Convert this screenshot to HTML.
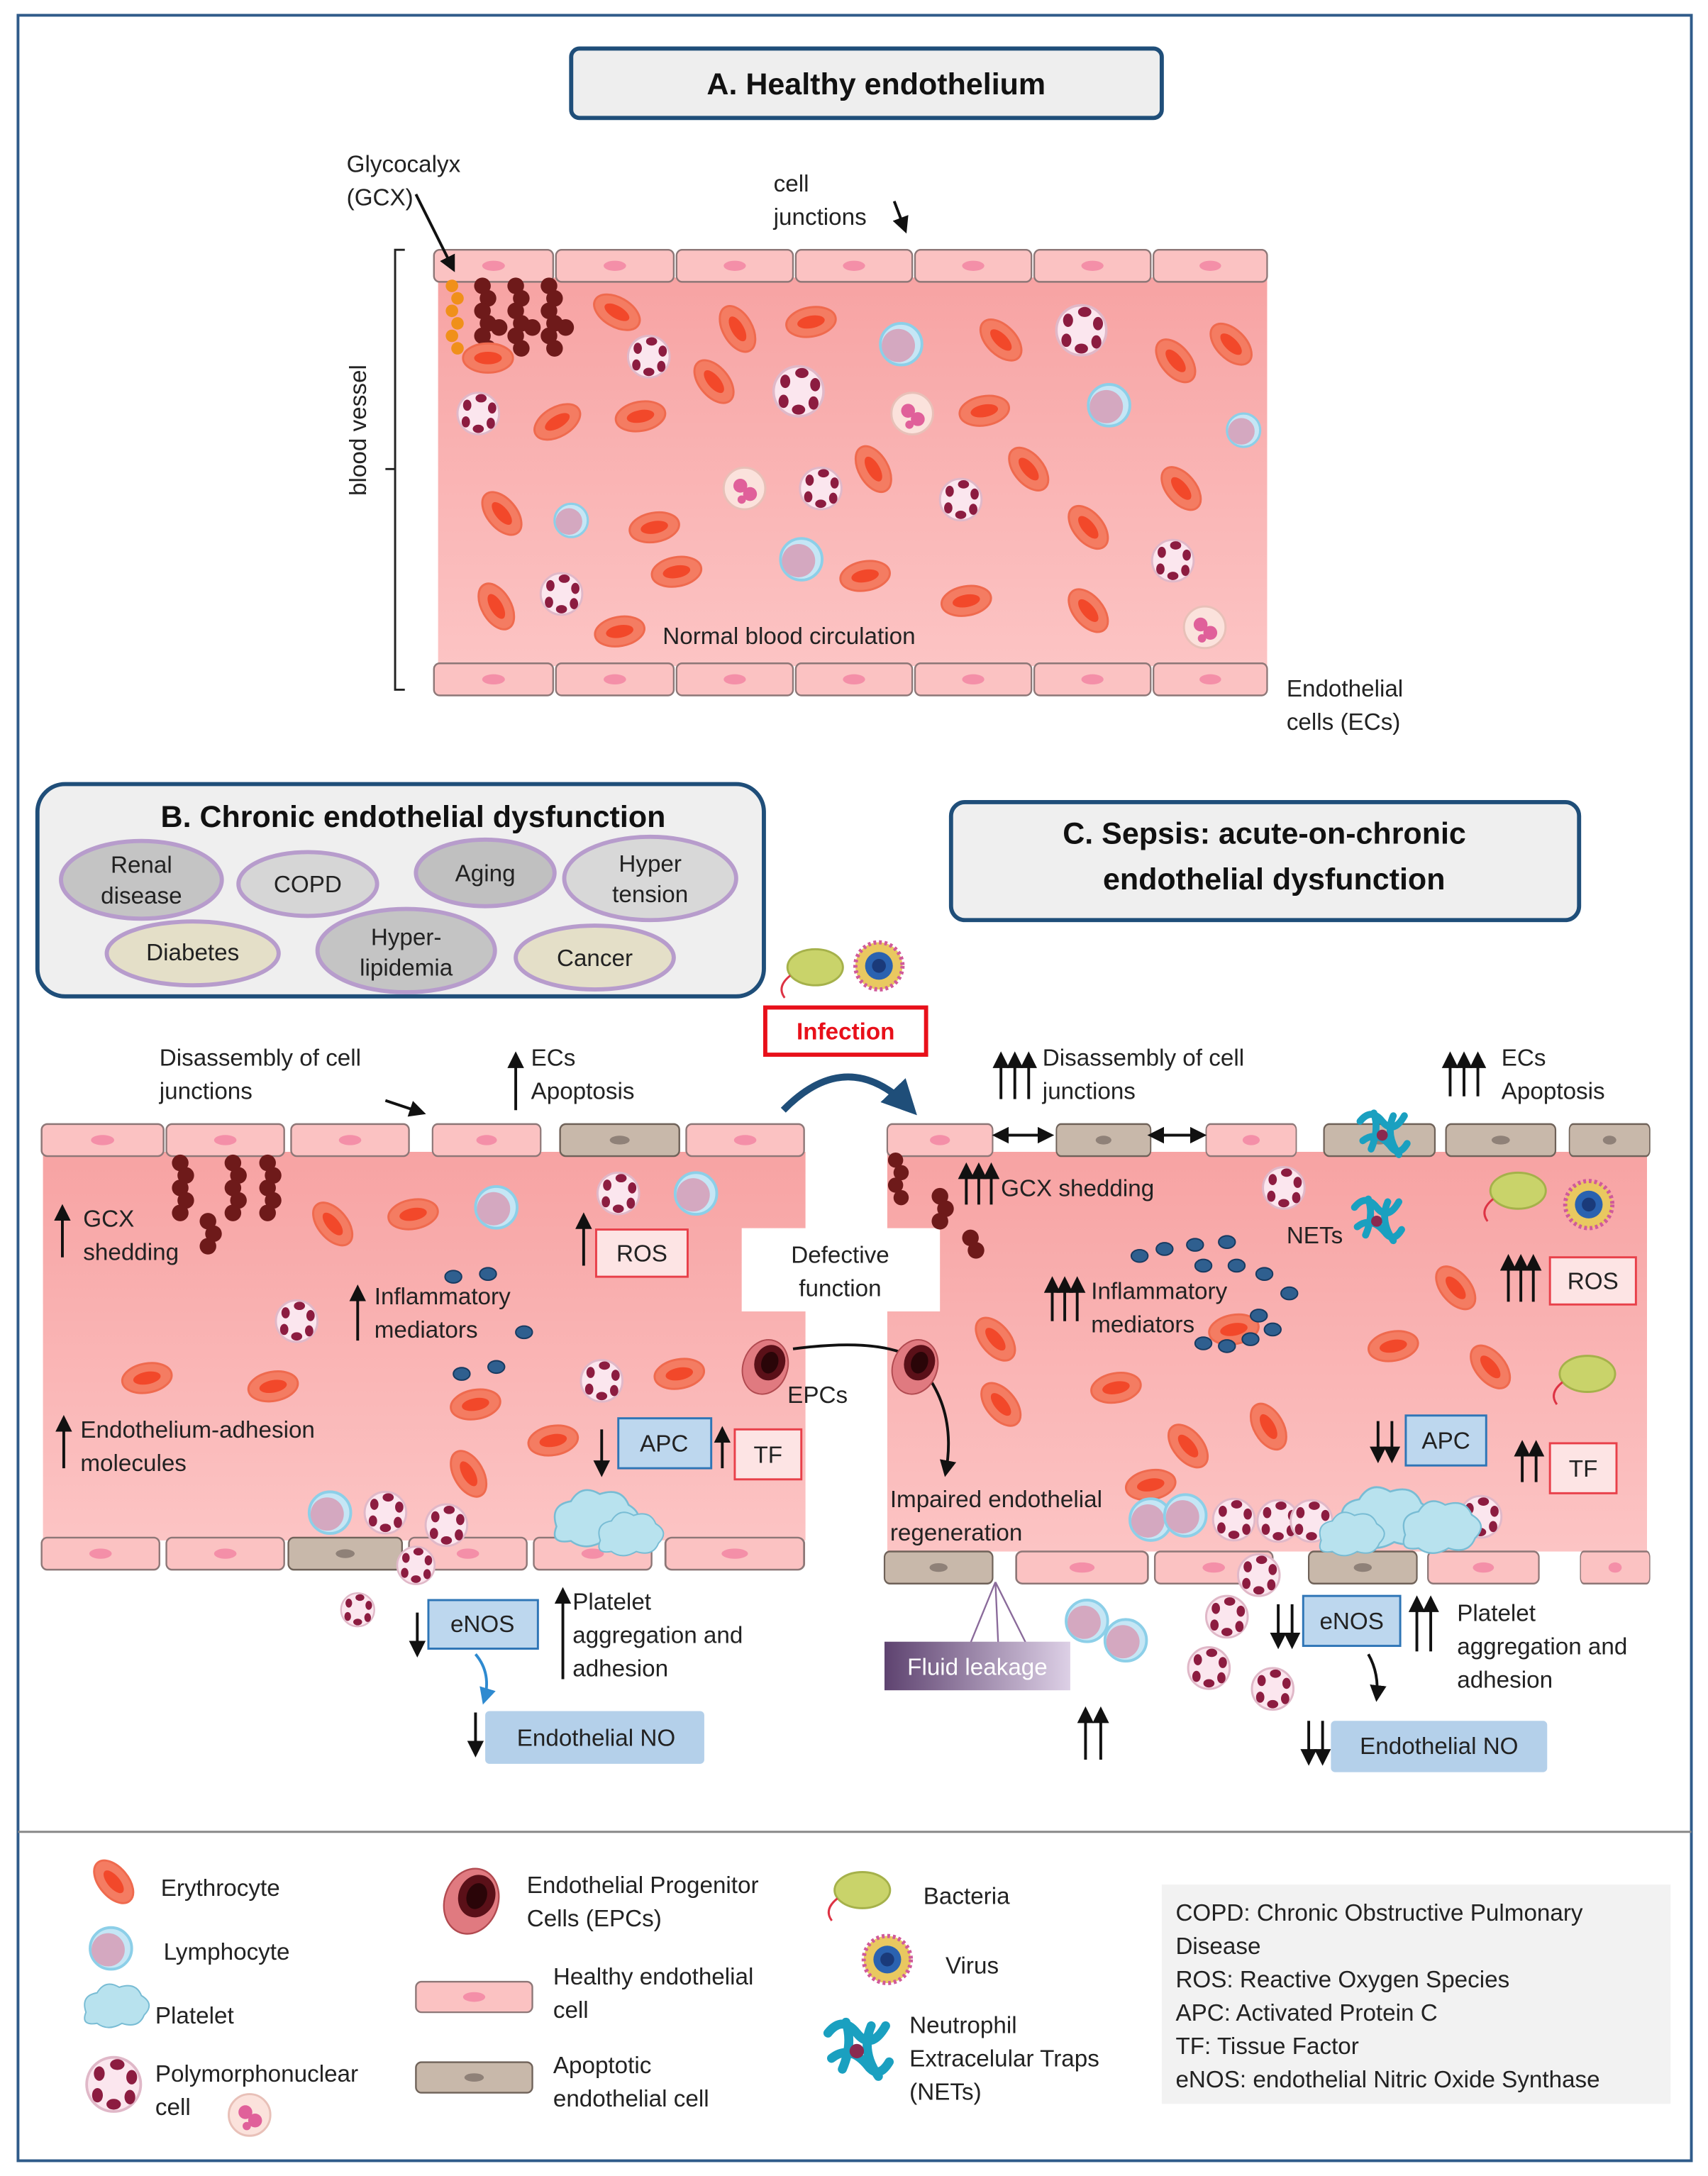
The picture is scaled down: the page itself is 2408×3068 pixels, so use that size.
<!DOCTYPE html>
<html><head><meta charset="utf-8">
<style>
html,body{margin:0;padding:0;background:#fff;}
svg{display:block;}
text{font-family:"Liberation Sans",sans-serif;fill:#222;font-size:17px;}
.b{font-weight:bold;font-size:22px;fill:#111;}
</style></head>
<body>
<svg id="s" width="2408" height="3068" viewBox="0 0 1232 1568" preserveAspectRatio="none" xmlns="http://www.w3.org/2000/svg">
<defs>
<g id="rbc"><ellipse rx="18" ry="10.5" fill="#f47c62" stroke="#ef6a4e" stroke-width="1.5"/><ellipse rx="10" ry="4.5" fill="#f2482a"/></g>
<g id="pmn"><circle r="15" fill="#fbe6ee" stroke="#e0b8c8" stroke-width="1.5"/><ellipse cx="-8" cy="-6" rx="3" ry="4" fill="#8c1c40"/><ellipse cx="2" cy="-11" rx="4" ry="3" fill="#8c1c40"/><ellipse cx="10" cy="-4" rx="3" ry="4" fill="#8c1c40"/><ellipse cx="9" cy="7" rx="3" ry="4" fill="#8c1c40"/><ellipse cx="0" cy="11" rx="4" ry="3" fill="#8c1c40"/><ellipse cx="-9" cy="6" rx="3" ry="4" fill="#8c1c40"/></g>
<g id="eos"><circle r="15" fill="#fbe2dc" stroke="#e8c0b8" stroke-width="1.5"/><circle cx="-3" cy="-2" r="5" fill="#e0609a"/><circle cx="4" cy="4" r="5" fill="#e0609a"/><circle cx="-2" cy="8" r="3" fill="#e0609a"/></g>
<g id="lym"><circle r="15" fill="#c5e6f5" stroke="#8ccfe8" stroke-width="2"/><circle cx="-2" cy="1" r="12" fill="#d4a8c0"/></g>
<g id="ec"><rect x="0" y="0" width="84" height="22" rx="4" fill="#fbc2c2" stroke="#8d7777" stroke-width="1.2"/><ellipse cx="42" cy="11" rx="8" ry="3.5" fill="#f48fa8"/></g>
<g id="apo"><rect x="0" y="0" width="84" height="22" rx="4" fill="#c8b8aa" stroke="#6f6259" stroke-width="1.2"/><ellipse cx="42" cy="11" rx="7" ry="3" fill="#8f8178"/></g>
<g id="epc"><ellipse rx="16" ry="20" fill="#e07a80" stroke="#b14a50"/><ellipse cx="2" cy="-4" rx="11" ry="13" fill="#5a1018"/><ellipse cx="2" cy="-4" rx="6" ry="8" fill="#2a0508"/></g>
<g id="bact"><ellipse rx="20" ry="13" fill="#c9d36a" stroke="#a5b14a" stroke-width="1.5"/><path d="M-18,6 q-10,8 -4,16" stroke="#d34" fill="none" stroke-width="1.5"/></g>
<g id="virus"><circle r="17" fill="#e9c860" stroke="#d05a9a" stroke-width="3" stroke-dasharray="2 2"/><circle r="10" fill="#2a62b0"/><circle r="5" fill="#1a3a7a"/></g>
<g id="net"><path d="M-16,-10 q8,-10 16,0 q8,10 16,-4 M-14,4 q10,-8 20,4 q6,8 12,-2 M-6,-16 q4,12 -2,26 M8,-14 q-6,14 4,28" stroke="#1aa0c0" stroke-width="5" fill="none" stroke-linecap="round"/><circle cx="0" cy="0" r="4" fill="#8a2a50"/></g>
<g id="plt"><path d="M-22,0 q-4,-12 8,-14 q6,-10 16,-4 q12,-4 16,6 q10,6 2,14 q-4,10 -16,6 q-10,6 -18,0 q-12,2 -8,-8z" fill="#b8e2ee" stroke="#78bcd4"/></g>
<marker id="ah" viewBox="0 0 10 10" refX="8" refY="5" markerWidth="6" markerHeight="6" orient="auto"><path d="M0,0 L10,5 L0,10z" fill="#111"/></marker>
<marker id="ahb" viewBox="0 0 10 10" refX="8" refY="5" markerWidth="5" markerHeight="5" orient="auto"><path d="M0,0 L10,5 L0,10z" fill="#1f4e79"/></marker>
<marker id="ahl" viewBox="0 0 10 10" refX="8" refY="5" markerWidth="6" markerHeight="6" orient="auto"><path d="M0,0 L10,5 L0,10z" fill="#2e8ad0"/></marker>
<linearGradient id="lum" x1="0" y1="0" x2="0" y2="1"><stop offset="0" stop-color="#f7a3a3"/><stop offset="1" stop-color="#fcc4c4"/></linearGradient>
<linearGradient id="fl" x1="0" y1="0" x2="1" y2="0"><stop offset="0" stop-color="#5e4370"/><stop offset="1" stop-color="#ddd0e6"/></linearGradient>
</defs>

<rect x="13" y="11" width="1207" height="1546" fill="none" stroke="#2f5b8a" stroke-width="2"/>
<line x1="13" y1="1320" x2="1220" y2="1320" stroke="#888" stroke-width="1.5"/>

<!-- Panel A -->
<rect x="412" y="35" width="426" height="50" rx="6" fill="#eeeeee" stroke="#1f4e79" stroke-width="3"/>
<text class="b" x="632" y="68" text-anchor="middle">A. Healthy endothelium</text>
<rect x="316" y="200" width="598" height="280" fill="url(#lum)"/>
<g id="rowA"></g>
<path d="M292,180 h-7 v317 h7 M285,338 h-7" stroke="#222" fill="none" stroke-width="1.5"/>
<text x="264" y="310" transform="rotate(-90 264 310)" text-anchor="middle" font-size="16">blood vessel</text>
<text x="250" y="124">Glycocalyx</text><text x="250" y="148">(GCX)</text>
<line x1="300" y1="140" x2="327" y2="194" stroke="#111" stroke-width="2" marker-end="url(#ah)"/>
<text x="558" y="138">cell</text><text x="558" y="162">junctions</text>
<line x1="645" y1="145" x2="653" y2="166" stroke="#111" stroke-width="2" marker-end="url(#ah)"/>
<text x="478" y="464">Normal blood circulation</text>
<text x="928" y="502">Endothelial</text><text x="928" y="526">cells (ECs)</text>

<!-- Panel B box -->
<rect x="27" y="565" width="524" height="153" rx="20" fill="#efefef" stroke="#1f4e79" stroke-width="3"/>
<text class="b" x="298" y="596" text-anchor="middle">B. Chronic endothelial dysfunction</text>
<g stroke="#b79ccc" stroke-width="3" font-size="16">
<ellipse cx="102" cy="634" rx="58" ry="28" fill="#c4c4c4"/>
<ellipse cx="222" cy="637" rx="50" ry="23" fill="#d6d6d6"/>
<ellipse cx="350" cy="629" rx="50" ry="24" fill="#c0c0c0"/>
<ellipse cx="469" cy="633" rx="62" ry="30" fill="#d8d8d8"/>
<ellipse cx="139" cy="687" rx="62" ry="23" fill="#e4dfc8"/>
<ellipse cx="293" cy="685" rx="64" ry="30" fill="#c4c4c4"/>
<ellipse cx="429" cy="690" rx="57" ry="23" fill="#e4dfc8"/>
</g>
<g text-anchor="middle" font-size="16">
<text x="102" y="629">Renal</text><text x="102" y="651">disease</text>
<text x="222" y="643">COPD</text>
<text x="350" y="635">Aging</text>
<text x="469" y="628">Hyper</text><text x="469" y="650">tension</text>
<text x="139" y="692">Diabetes</text>
<text x="293" y="681">Hyper-</text><text x="293" y="703">lipidemia</text>
<text x="429" y="696">Cancer</text>
</g>

<!-- Panel C box -->
<rect x="686" y="578" width="453" height="85" rx="10" fill="#efefef" stroke="#1f4e79" stroke-width="3"/>
<text class="b" x="912" y="608" text-anchor="middle">C. Sepsis: acute-on-chronic</text>
<text class="b" x="919" y="641" text-anchor="middle">endothelial dysfunction</text>

<!-- infection -->
<use href="#bact" x="588" y="697"/><use href="#virus" x="634" y="696"/>
<rect x="552" y="726" width="116" height="34" fill="#fff" stroke="#e8101a" stroke-width="3"/>
<text x="610" y="749" text-anchor="middle" fill="#e8101a" font-weight="bold" style="fill:#e8101a">Infection</text>
<path d="M565,800 Q612,752 658,800" stroke="#1f4e79" stroke-width="5" fill="none" marker-end="url(#ahb)"/>

<!-- vessels B and C lumens -->
<rect x="31" y="830" width="550" height="280" fill="url(#lum)"/>
<rect x="640" y="830" width="548" height="288" fill="url(#lum)"/>
<g id="rowB"></g>
<rect x="535" y="885" width="143" height="60" fill="#fff"/>
<text x="606" y="910" text-anchor="middle">Defective</text><text x="606" y="934" text-anchor="middle">function</text>

<!-- B labels -->
<g stroke="#111" stroke-width="2" fill="none" marker-end="url(#ah)" id="arrows"></g>
<text x="115" y="768">Disassembly of cell</text><text x="115" y="792">junctions</text>
<text x="383" y="768">ECs</text><text x="383" y="792">Apoptosis</text>
<text x="60" y="884">GCX</text><text x="60" y="908">shedding</text>
<text x="270" y="940">Inflammatory</text><text x="270" y="964">mediators</text>
<text x="58" y="1036">Endothelium-adhesion</text><text x="58" y="1060">molecules</text>
<rect x="430" y="886" width="66" height="34" fill="#fde4e4" stroke="#e8404a" stroke-width="1.5"/><text x="463" y="909" text-anchor="middle">ROS</text>
<rect x="446" y="1022" width="67" height="36" fill="#bdd7ee" stroke="#2e75b6" stroke-width="1.5"/><text x="479" y="1046" text-anchor="middle">APC</text>
<rect x="530" y="1030" width="48" height="36" fill="#fde4e4" stroke="#e8404a" stroke-width="1.5"/><text x="554" y="1054" text-anchor="middle">TF</text>
<text x="568" y="1011">EPCs</text>
<rect x="309" y="1153" width="79" height="35" fill="#bdd7ee" stroke="#2e75b6" stroke-width="1.5"/><text x="348" y="1176" text-anchor="middle">eNOS</text>
<text x="413" y="1160">Platelet</text><text x="413" y="1184">aggregation and</text><text x="413" y="1208">adhesion</text>
<rect x="350" y="1233" width="158" height="38" rx="3" fill="#b4d0ea"/><text x="430" y="1258" text-anchor="middle">Endothelial  NO</text>
<path d="M343,1192 q12,14 6,34" stroke="#2e8ad0" stroke-width="2" fill="none" marker-end="url(#ahl)"/>
<path d="M572,972 q60,-8 86,6" stroke="#111" stroke-width="2" fill="none"/>
<path d="M668,990 q22,30 14,72" stroke="#111" stroke-width="2" fill="none" marker-end="url(#ah)"/>

<!-- C labels -->
<text x="752" y="768">Disassembly of cell</text><text x="752" y="792">junctions</text>
<text x="1083" y="768">ECs</text><text x="1083" y="792">Apoptosis</text>
<text x="722" y="862">GCX shedding</text>
<text x="928" y="896">NETs</text>
<text x="787" y="936">Inflammatory</text><text x="787" y="960">mediators</text>
<rect x="1118" y="906" width="62" height="34" fill="#fde4e4" stroke="#e8404a" stroke-width="1.5"/><text x="1149" y="929" text-anchor="middle">ROS</text>
<rect x="1014" y="1020" width="58" height="36" fill="#bdd7ee" stroke="#2e75b6" stroke-width="1.5"/><text x="1043" y="1044" text-anchor="middle">APC</text>
<rect x="1118" y="1040" width="48" height="36" fill="#fde4e4" stroke="#e8404a" stroke-width="1.5"/><text x="1142" y="1064" text-anchor="middle">TF</text>
<text x="642" y="1086">Impaired endothelial</text><text x="642" y="1110">regeneration</text>
<path d="M718,1140 L700,1184 M718,1140 L720,1184 M718,1140 L740,1184" stroke="#8a6a9a" stroke-width="1.2"/>
<rect x="638" y="1183" width="134" height="35" fill="url(#fl)"/><text x="705" y="1207" text-anchor="middle" style="fill:#fff">Fluid leakage</text>
<rect x="940" y="1150" width="70" height="36" fill="#bdd7ee" stroke="#2e75b6" stroke-width="1.5"/><text x="975" y="1174" text-anchor="middle">eNOS</text>
<text x="1051" y="1168">Platelet</text><text x="1051" y="1192">aggregation and</text><text x="1051" y="1216">adhesion</text>
<rect x="960" y="1240" width="156" height="37" rx="3" fill="#b4d0ea"/><text x="1038" y="1264" text-anchor="middle">Endothelial  NO</text>
<path d="M987,1192 q8,14 6,32" stroke="#111" stroke-width="2" fill="none" marker-end="url(#ah)"/>
<g stroke="#111" stroke-width="2" marker-end="url(#ah)">
<line x1="718" y1="818" x2="758" y2="818"/><line x1="758" y1="818" x2="718" y2="818"/>
<line x1="830" y1="818" x2="868" y2="818"/><line x1="868" y1="818" x2="830" y2="818"/>
</g>

<g id="cells"></g>

<!-- Legend -->
<use href="#rbc" transform="translate(82,1356) rotate(50)"/>
<text x="116" y="1366">Erythrocyte</text>
<use href="#lym" x="80" y="1404"/><text x="118" y="1412">Lymphocyte</text>
<use href="#plt" x="84" y="1450"/><text x="112" y="1458">Platelet</text>
<use href="#pmn" transform="translate(82,1502) scale(1.3)"/><use href="#eos" x="180" y="1524"/>
<text x="112" y="1500">Polymorphonuclear</text><text x="112" y="1524">cell</text>
<use href="#epc" transform="translate(340,1370) rotate(20) scale(1.2)"/>
<text x="380" y="1364">Endothelial Progenitor</text><text x="380" y="1388">Cells (EPCs)</text>
<use href="#ec" x="300" y="1428"/><text x="399" y="1430">Healthy endothelial</text><text x="399" y="1454">cell</text>
<use href="#apo" x="300" y="1486"/><text x="399" y="1494">Apoptotic</text><text x="399" y="1518">endothelial cell</text>
<use href="#bact" x="622" y="1362"/><text x="666" y="1372">Bacteria</text>
<use href="#virus" x="640" y="1412"/><text x="682" y="1422">Virus</text>
<use href="#net" transform="translate(618,1478) scale(1.3)"/>
<text x="656" y="1465">Neutrophil</text><text x="656" y="1489">Extracelular Traps</text><text x="656" y="1513">(NETs)</text>
<rect x="838" y="1358" width="367" height="158" fill="#f2f2f2"/>
<g font-size="16.5"><text x="848" y="1384">COPD: Chronic  Obstructive Pulmonary</text>
<text x="848" y="1408">Disease</text>
<text x="848" y="1432">ROS: Reactive Oxygen Species</text>
<text x="848" y="1456">APC: Activated Protein C</text>
<text x="848" y="1480">TF: Tissue Factor</text>
<text x="848" y="1504">eNOS: endothelial Nitric Oxide Synthase</text></g>
</svg>
<script>
var NS="http://www.w3.org/2000/svg";
function add(parent,tag,attrs){var e=document.createElementNS(NS,tag);for(var k in attrs)e.setAttribute(k,attrs[k]);document.getElementById(parent).appendChild(e);return e;}
function use(p,id,x,y,r,s){add(p,"use",{href:"#"+id,transform:"translate("+x+","+y+") rotate("+(r||0)+") scale("+(s||1)+")"});}
function ecrow(p,list,y){list.forEach(function(c){var w=c[1]-c[0];add(p,"use",{href:"#"+(c[2]?"apo":"ec"),transform:"translate("+c[0]+","+y+") scale("+(w/84)+",1.05)"});});}
// A rows
var a=[[313,399],[401,486],[488,572],[574,658],[660,744],[746,830],[832,914]];
ecrow("rowA",a,180);ecrow("rowA",a,478);
// B rows
ecrow("rowB",[[30,118],[120,205],[210,295],[312,390],[404,490,1],[495,580]],810);
ecrow("rowB",[[30,115],[120,205],[208,290,1],[295,380],[385,470],[480,580]],1108);
ecrow("rowB",[[640,716],[762,830,1],[870,935],[955,1035,1],[1043,1122,1],[1132,1190,1]],810);
ecrow("rowB",[[638,716,1],[733,828],[833,918],[944,1022,1],[1030,1110],[1140,1190]],1118);
// GCX
function chain(p,x,y0,n,col,r){for(var i=0;i<n;i++){add(p,"circle",{cx:x+(i%2?2:-2),cy:y0+i*9,r:r,fill:col});}}
chain("rowA",328,206,6,"#f0901a",4.5);
[350,374,398].forEach(function(x){chain("rowA",x,206,6,"#6e1a1a",6);add("rowA","circle",{cx:x+10,cy:236,r:6,fill:"#6e1a1a"});});
[132,170,195].forEach(function(x){chain("cells",x,838,5,"#6e1a1a",6);});
chain("cells",152,880,3,"#6e1a1a",6);
chain("cells",648,836,4,"#6e1a1a",5.5);chain("cells",680,862,3,"#6e1a1a",6);chain("cells",702,892,2,"#6e1a1a",6);
// cells A
[[445,225,30],[532,237,60],[585,232,-10],[352,258,0],[722,245,45],[888,248,45],[515,275,50],[402,304,-30],[462,300,-10],[710,296,-10],[848,260,50],[630,338,60],[742,338,50],[362,370,50],[472,380,-10],[852,352,50],[785,380,50],[488,412,-10],[624,415,-10],[358,437,60],[447,455,-10],[697,433,-10],[785,440,50]].forEach(function(c){use("cells","rbc",c[0],c[1],c[2]);});
[[468,257],[576,282,1.2],[780,238,1.2],[345,298],[592,352],[693,360],[405,428],[846,404]].forEach(function(c){use("cells","pmn",c[0],c[1],0,c[2]||1);});
[[650,248],[800,292],[897,310,0.8],[412,375,0.8],[578,403]].forEach(function(c){use("cells","lym",c[0],c[1],0,c[2]||1);});
[[658,298],[537,352],[869,452]].forEach(function(c){use("cells","eos",c[0],c[1]);});
// cells B
[[240,882,50],[298,875,-10],[106,993,-10],[197,999,-10],[343,1012,-10],[399,1038,-10],[490,990,-10],[338,1062,60],[718,965,50],[722,1012,50],[805,1000,-10],[857,1042,50],[915,1028,60],[1005,970,-10],[1075,985,50],[1050,928,50],[890,958,-10],[830,1070,-10]].forEach(function(c){use("cells","rbc",c[0],c[1],c[2]);});
[[446,860],[214,952],[434,995],[278,1090],[322,1099],[258,1160,0.8],[300,1128,0.9],[926,856],[890,1095],[922,1096],[946,1096],[1068,1093],[885,1165],[918,1217],[872,1202],[908,1135]].forEach(function(c){use("cells","pmn",c[0],c[1],0,c[2]||1);});
[[358,870],[502,860],[238,1090],[830,1095],[855,1092],[784,1168],[812,1182]].forEach(function(c){use("cells","lym",c[0],c[1],0,c[2]||1);});
use("cells","plt",430,1100,0,1.3);use("cells","plt",455,1110,0,1);
use("cells","plt",1000,1100,0,1.4);use("cells","plt",1040,1106,0,1.2);use("cells","plt",975,1110,0,1);
use("cells","epc",552,985,20);use("cells","epc",660,985,20);
use("cells","net",997,818);use("cells","net",993,880);
use("cells","bact",1095,858);use("cells","bact",1145,990);use("cells","virus",1146,868);
[[327,920],[352,918],[378,960],[333,990],[358,985],[822,905],[840,900],[862,897],[885,895],[868,912],[892,912],[912,918],[930,932],[908,948],[918,958],[902,965],[885,970],[868,968]].forEach(function(c){add("cells","ellipse",{cx:c[0],cy:c[1],rx:6,ry:4.5,fill:"#2f5f8f",stroke:"#173a60"});});
// arrows
function ar(x,y1,y2){add("arrows","line",{x1:x,y1:y1,x2:x,y2:y2});}
function multi(xs,y1,y2){xs.forEach(function(x){ar(x,y1,y2);});}
ar(372,800,760);add("arrows","line",{x1:278,y1:793,x2:305,y2:802});
ar(45,906,870);ar(258,966,928);ar(46,1058,1022);ar(421,912,876);ar(434,1030,1062);ar(521,1058,1030);ar(301,1162,1192);ar(406,1210,1146);ar(343,1234,1264);
multi([722,732,742],792,760);multi([1046,1056,1066],790,760);multi([697,706,715],868,840);multi([759,768,777],952,922);multi([1088,1097,1106],938,906);
multi([994,1004],1024,1052);multi([1098,1108],1068,1040);multi([922,932],1156,1186);multi([1022,1032],1190,1152);multi([944,954],1240,1270);multi([783,794],1268,1232);
</script>
</body></html>
